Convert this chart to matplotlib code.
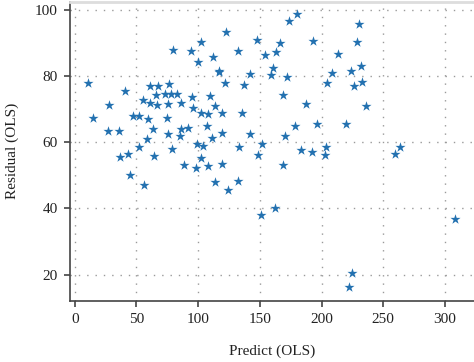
import matplotlib
matplotlib.use("Agg")
import matplotlib.pyplot as plt

predict = [10.9, 41.1, 27.9, 14.8, 26.9, 35.9, 61.0, 67.6, 76.1, 66.0, 73.3, 78.3, 82.8,
           55.7, 61.3, 66.8, 75.7, 86.5, 95.4, 95.5, 47.0, 52.0, 59.3, 75.1, 63.4, 86.0,
           92.1, 75.3, 85.4, 58.9, 52.4, 37.1, 43.4, 64.0, 79.2, 99.4, 79.8, 94.3, 100.2,
           102.1, 44.9, 56.0, 88.7, 98.5, 122.8, 112.1, 132.6, 148.0, 154.1, 166.6, 163.2,
           173.4, 179.9, 116.8, 117.2, 142.3, 160.3, 158.8, 171.8, 121.9, 137.2, 109.9,
           169.0, 113.4, 102.3, 108.3, 119.2, 135.4, 107.3, 119.2, 111.1, 142.3, 103.6,
           133.3, 151.6, 148.7, 102.1, 108.3, 119.7, 170.4, 178.1, 183.4, 168.6, 113.9,
           124.1, 132.2, 150.9, 162.2, 230.4, 193.1, 229.1, 213.4, 208.3, 224.1, 231.7,
           204.7, 226.6, 232.8, 187.7, 236.3, 196.4, 219.7, 192.5, 203.8, 203.1, 259.7,
           263.6, 308.1, 224.5, 222.3]
residual = [77.8, 75.3, 71.3, 67.3, 63.4, 63.3, 76.9, 77.0, 77.5, 74.2, 74.4, 74.5, 74.5,
            72.7, 71.7, 71.1, 71.4, 71.7, 73.6, 70.2, 68.0, 67.8, 67.0, 67.3, 64.1, 64.0,
            64.4, 62.5, 61.8, 61.0, 58.5, 55.6, 56.3, 55.8, 57.9, 59.4, 87.9, 87.5, 84.1,
            90.2, 50.1, 47.1, 53.0, 52.3, 93.3, 85.8, 87.4, 90.8, 86.2, 89.8, 87.3,
            96.7, 98.8, 81.6, 81.2, 80.6, 82.5, 80.3, 79.8, 77.9, 77.3, 73.8,
            74.1, 70.9, 68.7, 68.6, 68.7, 68.9, 65.0, 62.8, 61.1, 62.5, 58.8,
            58.6, 59.3, 56.0, 55.3, 52.7, 53.5, 61.9, 64.8, 57.7, 53.2, 47.9,
            45.6, 48.1, 38.1, 40.2, 95.6, 90.5, 90.2, 86.5, 80.8, 81.5, 83.1,
            77.8, 77.0, 78.1, 71.6, 70.8, 65.5, 65.6, 56.9, 58.6, 56.0, 56.5,
            58.5, 36.7, 20.5, 16.2]

xticks = [0, 50, 100, 150, 200, 250, 300]
yticks = [20, 40, 60, 80, 100]

serif = ["Liberation Serif", "DejaVu Serif"]

fig = plt.figure(figsize=(4.74, 3.62), dpi=100)
ax = fig.add_axes([0.1477, 0.1693, 0.8523, 0.8252])

ax.scatter(predict, residual, marker="*", s=58, color="#2371b0", zorder=3, linewidths=0)

ax.set_xlim(-3.8, 323.5)
ax.set_ylim(12.1, 102.3)
ax.set_xticks(xticks)
ax.set_yticks(yticks)
ax.grid(True, color="#9a9a9a", linestyle=(0, (1, 5)), linewidth=1.0)

for side in ["left", "bottom"]:
    ax.spines[side].set_color("#444444")
    ax.spines[side].set_linewidth(1.2)
ax.spines["right"].set_visible(False)
ax.spines["top"].set_color("#dddddd")
ax.spines["top"].set_linewidth(2)

ax.tick_params(direction="out", length=4, width=1.2, color="#444444",
               labelsize=11, labelcolor="#222222", pad=5)
for lab in ax.get_xticklabels() + ax.get_yticklabels():
    lab.set_fontfamily(serif)

ax.set_xlabel("Predict (OLS)", fontsize=11, family=serif, color="#222222", labelpad=13)
ax.set_ylabel("Residual (OLS)", fontsize=11, family=serif, color="#222222", labelpad=11)

fig.savefig("out.png", dpi=100)
